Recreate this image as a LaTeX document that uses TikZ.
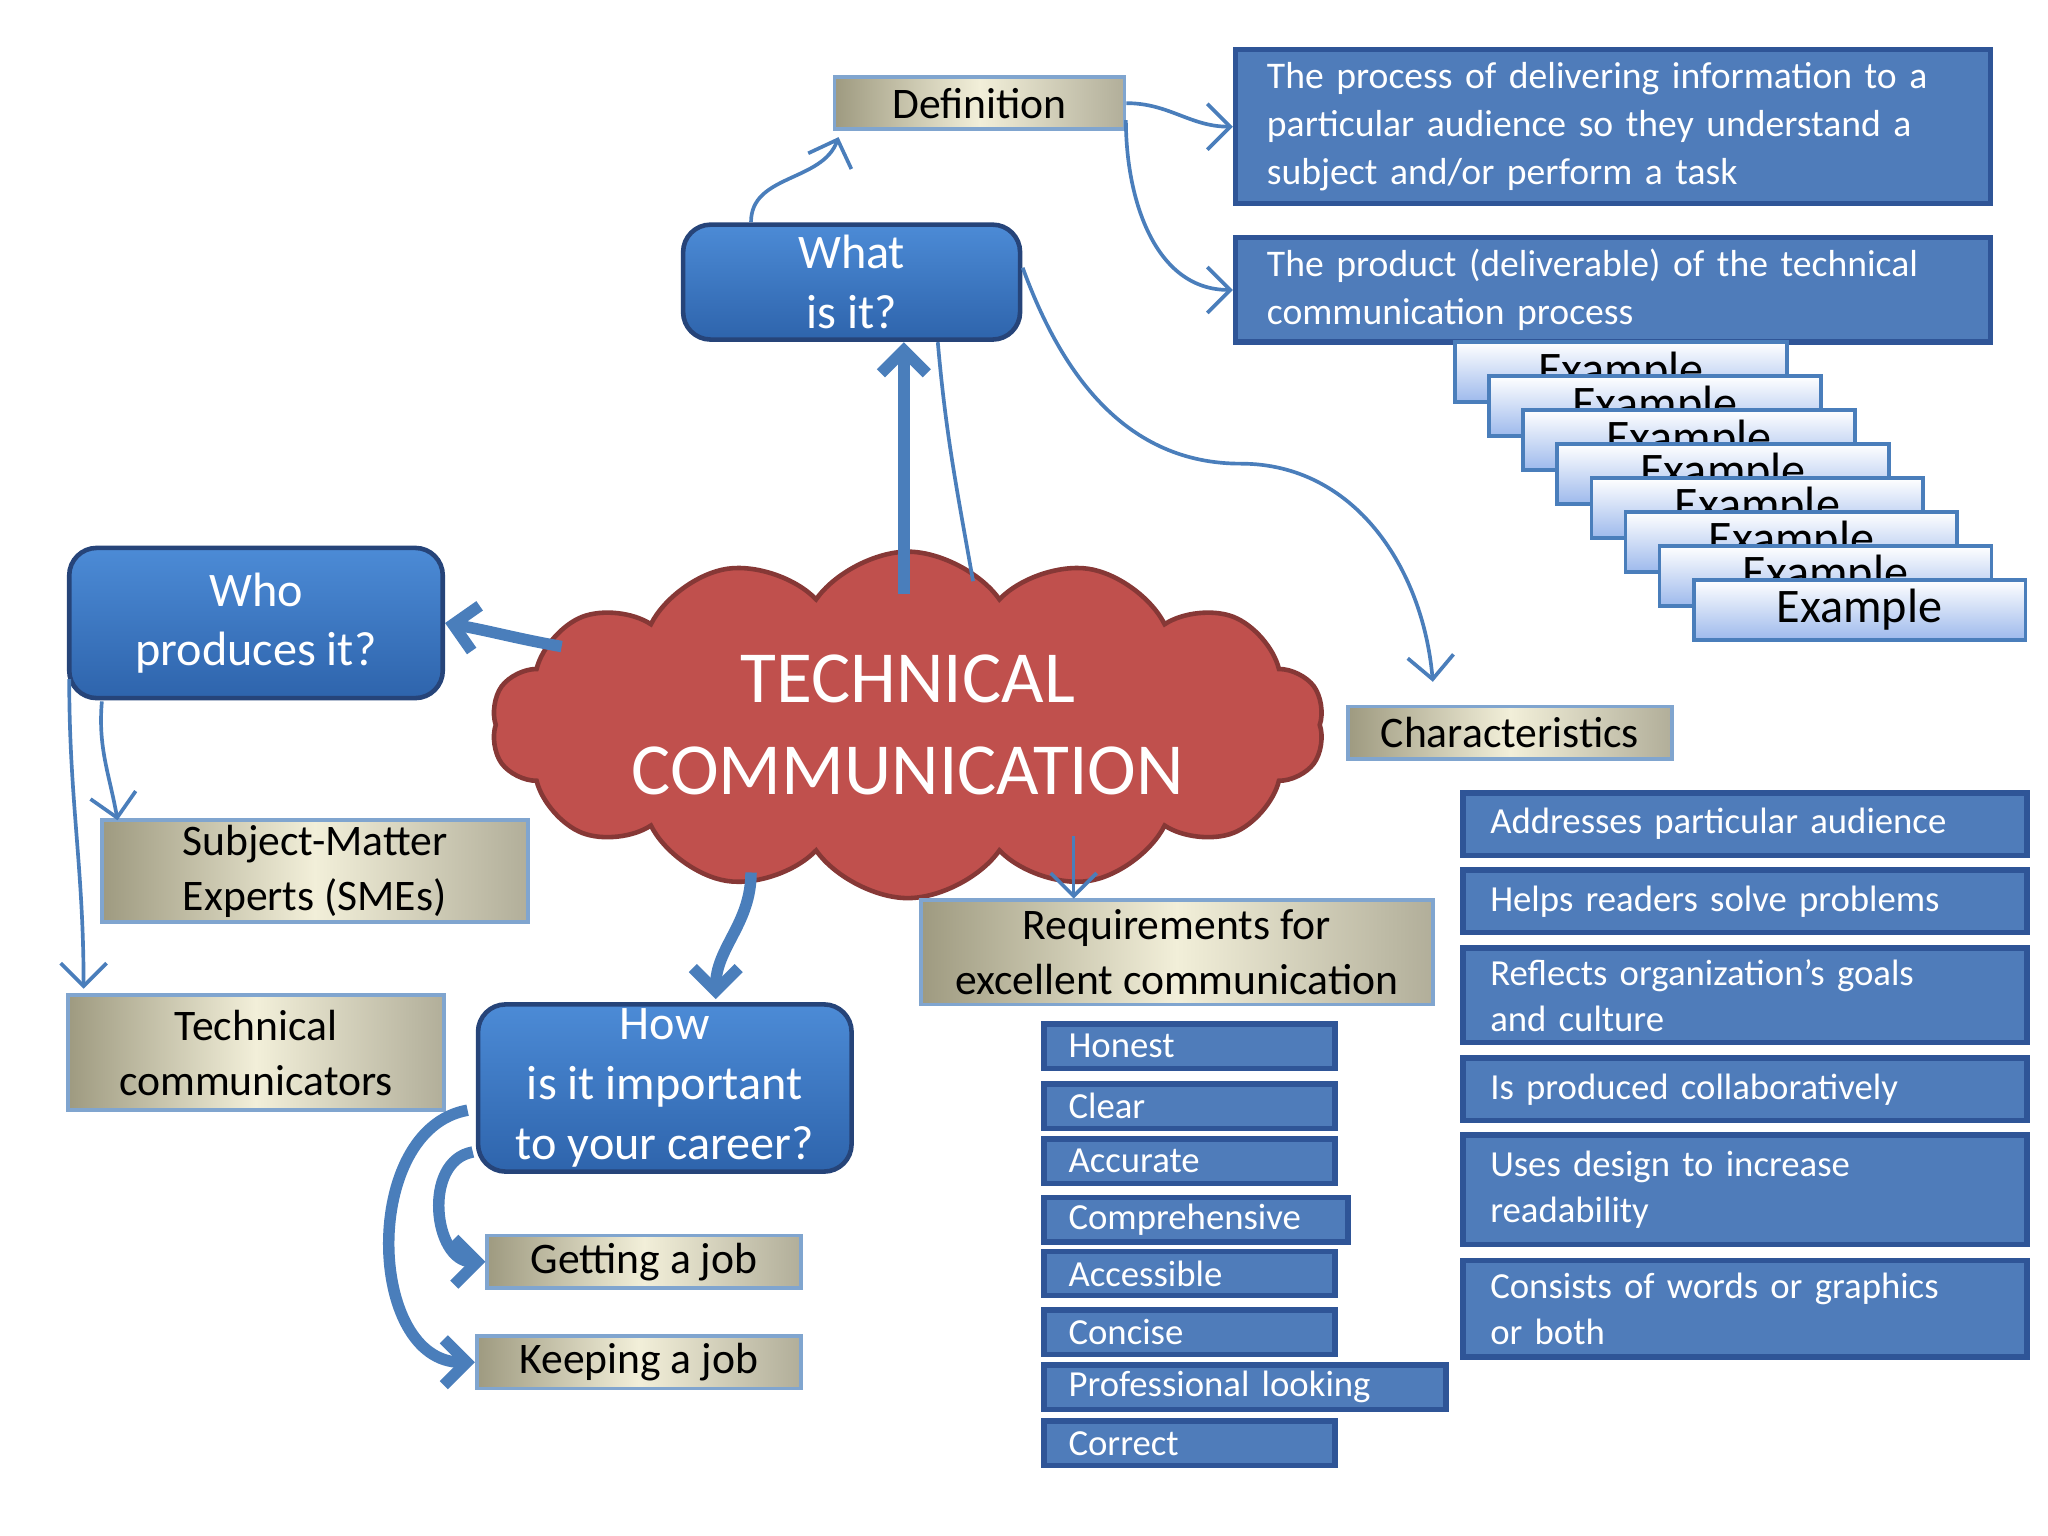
\documentclass[tikz,border=0pt]{standalone}
\usepackage{fontspec}
\setmainfont{Carlito}
\usetikzlibrary{shapes.symbols,arrows.meta,positioning}
\definecolor{boxblue}{HTML}{4F7CBA}
\definecolor{darkblue}{HTML}{2F5597}
\definecolor{qtop}{HTML}{4C8BD6}
\definecolor{qbottom}{HTML}{2E64AC}
\definecolor{lightblue}{HTML}{9DB9EC}
\definecolor{cloudred}{HTML}{C0504D}
\definecolor{tanleft}{HTML}{9E9A80}
\definecolor{tanmid}{HTML}{F2EFD9}
\definecolor{linkblue}{HTML}{4A7EBB}
\tikzset{
  question/.style={rounded corners=6pt, top color=qtop, bottom color=qbottom, draw=darkblue!80!black, line width=1pt, text=white, font=\fontsize{10.5}{13}\selectfont, align=center, inner sep=0pt},
  tan/.style={left color=tanleft, right color=tanleft!80, middle color=tanmid, draw=linkblue!70, line width=0.8pt, font=\fontsize{9.5}{12}\selectfont, align=center, inner sep=0pt},
  item/.style={fill=boxblue, draw=darkblue, line width=1.2pt, text=white, font=\fontsize{8}{10}\selectfont, align=left, inner sep=0pt},
  example/.style={top color=white, bottom color=lightblue, draw=linkblue, line width=0.8pt, font=\fontsize{10.5}{12}\selectfont, minimum width=2.54cm, minimum height=0.46cm, inner sep=0pt},
  link/.style={draw=linkblue, line width=0.8pt, -{Straight Barb[length=5pt]}},
  bigarrow/.style={draw=linkblue, line width=2.5pt, -{Straight Barb[length=5pt]}},
}
\begin{document}
\begin{tikzpicture}
\useasboundingbox (0,0) rectangle (15.68,-11.76);
% centre
\node[cloud, cloud puffs=14, cloud puff arc=110, aspect=3.2, fill=cloudred, draw=cloudred!70!black, line width=1pt, minimum width=6.1cm, minimum height=1.8cm, text=white, align=center, font=\fontsize{16}{20}\selectfont] (tc) at (6.95,-5.55) {TECHNICAL\\COMMUNICATION};

% questions
\node[question, minimum width=2.58cm, minimum height=0.88cm] (what) at (6.52,-2.16) {What\\is it?};
\node[question, minimum width=2.86cm, minimum height=1.15cm] (who) at (1.96,-4.77) {Who\\produces it?};
\node[question, minimum width=2.86cm, minimum height=1.28cm] (how) at (5.09,-8.33) {How\\is it important\\to your career?};

% what
\node[tan, minimum width=2.22cm, minimum height=0.4cm] (def) at (7.50,-0.79) {Definition};
\node[item, minimum width=5.78cm, minimum height=1.18cm, text width=5.3cm, font=\fontsize{8.2}{10.5}\selectfont] (proc) at (12.35,-0.97) {The process of delivering information to a particular audience so they understand a subject and/or perform a task};
\node[item, minimum width=5.78cm, minimum height=0.8cm, text width=5.3cm, font=\fontsize{8.2}{10.5}\selectfont] (prod) at (12.35,-2.22) {The product (deliverable) of the technical communication process};
\foreach \i in {0,...,7}
  \node[example] (ex\i) at ({12.41+0.261*\i},{-2.85-0.26*\i}) {Example};

% characteristics
\node[tan, minimum width=2.48cm, minimum height=0.4cm] (char) at (11.56,-5.61) {Characteristics};
\foreach \y/\h/\t [count=\n] in {6.31/0.48/Addresses particular audience, 6.90/0.48/Helps readers solve problems, 7.62/0.72/Reflects organization’s goals\\and culture, 8.34/0.48/Is produced collaboratively, 9.11/0.84/Uses design to increase\\readability, 10.02/0.74/Consists of words or graphics\\or both}
  \node[item, minimum width=4.32cm, minimum height=\h cm, text width=3.9cm] (ch\n) at (13.36,-\y) {\t};

% who
\node[tan, minimum width=3.26cm, minimum height=0.78cm] (sme) at (2.41,-6.67) {Subject-Matter\\Experts (SMEs)};
\node[tan, minimum width=2.88cm, minimum height=0.88cm] (tcom) at (1.96,-8.06) {Technical\\communicators};

% how
\node[tan, minimum width=2.40cm, minimum height=0.40cm] (get) at (4.93,-9.66) {Getting a job};
\node[tan, minimum width=2.48cm, minimum height=0.40cm] (keep) at (4.89,-10.43) {Keeping a job};

% requirements
\node[tan, minimum width=3.92cm, minimum height=0.80cm] (req) at (9.01,-7.29) {Requirements for\\excellent communication};
\foreach \y/\w/\t [count=\n] in {8.01/2.23/Honest, 8.47/2.23/Clear, 8.89/2.23/Accurate, 9.34/2.33/Comprehensive, 9.75/2.23/Accessible, 10.20/2.23/Concise, 10.62/3.08/Professional looking, 11.05/2.23/Correct}
  \node[item, minimum width=\w cm, minimum height=0.34cm, text width={\w cm-0.38cm}, anchor=west] (rq\n) at (7.97,-\y) {\t};

% links
\draw[bigarrow] (6.92,-4.55) -- (6.92,-2.62);
\draw[draw=linkblue, line width=0.8pt] (7.45,-4.45) to[out=100, in=-85] (7.18,-2.62);
\draw[link] (5.75,-1.70) to[out=90, in=-110] (6.42,-1.05);
\draw[link] (def.east) to[out=0, in=180] (proc.west);
\draw[link] (8.62,-0.92) to[out=-90, in=180] (prod.west);
\draw[link] (7.83,-2.05) to[out=-70, in=180] (9.5,-3.55) to[out=0, in=95] (10.97,-5.22);
\draw[bigarrow] (4.30,-4.95) to[out=170, in=-10] (who.east);
\draw[link] (0.78,-5.37) to[out=-95, in=100] (0.90,-6.28);
\draw[link] (0.53,-5.2) to[out=-90, in=90] (0.64,-7.57);
\draw[bigarrow] (5.75,-6.68) to[out=-90, in=90] (5.48,-7.65);
\draw[link] (8.22,-6.40) -- (8.22,-6.88);
\draw[bigarrow] (3.58,-8.50) to[out=190, in=180, looseness=1.1] (keep.west);
\draw[bigarrow] (3.62,-8.82) to[out=190, in=180, looseness=1.2] (get.west);
\end{tikzpicture}
\end{document}
